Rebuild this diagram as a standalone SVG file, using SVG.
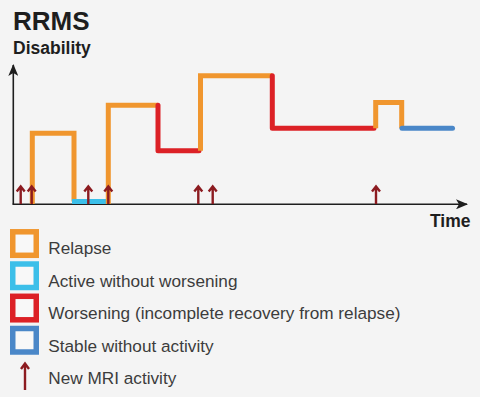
<svg xmlns="http://www.w3.org/2000/svg" width="480" height="397" viewBox="0 0 480 397">
<style>
.title{font-family:"Liberation Sans",Arial,sans-serif;font-weight:bold;fill:#1e1e1e}
.leg{font-family:"Liberation Sans",Arial,sans-serif;font-size:17.2px;fill:#3c3c3c}
.seg{fill:none;stroke-width:5}
.or{stroke:#f0962e;stroke-linejoin:miter}
.cy{stroke:#3cbfe9}
.rd{stroke:#dc2126;stroke-linejoin:round;stroke-linecap:round}
.bl{stroke:#4a87c8;stroke-linecap:round}
.mri{fill:none;stroke:#8c1b20;stroke-width:2.4}
.box{fill:#f8f8f8;stroke-width:5.5}
</style>
<defs>
<marker id="axhead" viewBox="0 0 12 10" refX="11" refY="5" markerWidth="12" markerHeight="10" markerUnits="userSpaceOnUse" orient="auto">
<path d="M0,0 L12,5 L0,10 L3,5 Z" fill="#1e1e1e"/>
</marker>
<g id="mriArrow">
<path d="M0,0 V-17.5 M-4,-12.5 L0,-17.5 L4,-12.5" class="mri"/>
</g>
</defs>
<rect width="480" height="397" fill="#f4f4f4"/>
<text class="title" x="13" y="30" font-size="26">RRMS</text>
<text class="title" x="13" y="54.3" font-size="17.5">Disability</text>
<text class="title" x="430" y="227.3" font-size="17.5">Time</text>
<g id="axes" fill="none" stroke="#1e1e1e" stroke-width="1.6">
<line x1="13.3" y1="204.3" x2="13.3" y2="65" marker-end="url(#axhead)"/>
<line x1="12.5" y1="204.3" x2="467" y2="204.3" marker-end="url(#axhead)"/>
</g>
<g id="connectors">
<path class="seg or" d="M32.3,204 V133.3 H74 V201.5"/>
<path class="seg cy" d="M72,201.5 H106"/>
<path class="seg or" d="M108.3,204 V105.3 H158"/>
<path class="seg rd" d="M158,105.3 V150.7 H199"/>
<path class="seg or" d="M200.5,150.7 V75.8 H272"/>
<path class="seg rd" d="M272.3,75.8 V128.2 H374"/>
<path class="seg or" d="M375.7,128.2 V102.5 H401.7 V128.2"/>
<path class="seg bl" d="M402,128.2 H452.5"/>
</g>
<g id="mri-events">
<use href="#mriArrow" x="20.7" y="204"/>
<use href="#mriArrow" x="31.7" y="204"/>
<use href="#mriArrow" x="88.3" y="204"/>
<use href="#mriArrow" x="108.3" y="204"/>
<use href="#mriArrow" x="198.3" y="204"/>
<use href="#mriArrow" x="212.7" y="204"/>
<use href="#mriArrow" x="376" y="204"/>
</g>
<g id="legend-relapse">
<rect class="box" x="12.75" y="231.8" width="23.5" height="23.5" stroke="#f0962e"/>
<text class="leg" x="48.3" y="254.3">Relapse</text>
</g>
<g id="legend-active">
<rect class="box" x="12.75" y="264" width="23.5" height="23.5" stroke="#3cbfe9"/>
<text class="leg" x="48.3" y="287">Active without worsening</text>
</g>
<g id="legend-worsening">
<rect class="box" x="12.75" y="296.3" width="23.5" height="23.5" stroke="#dc2126"/>
<text class="leg" x="48.3" y="319.3">Worsening (incomplete recovery from relapse)</text>
</g>
<g id="legend-stable">
<rect class="box" x="12.75" y="328.5" width="23.5" height="23.5" stroke="#4a87c8"/>
<text class="leg" x="48.3" y="351.5">Stable without activity</text>
</g>
<g id="legend-mri">
<path class="mri" d="M25,390 V363.5 M21,369 L25,363.5 L29,369"/>
<text class="leg" x="48.3" y="384">New MRI activity</text>
</g>
</svg>
